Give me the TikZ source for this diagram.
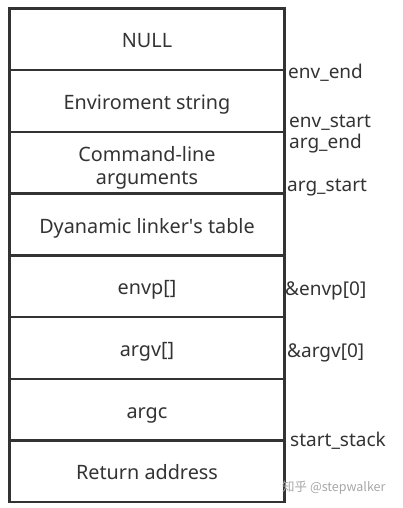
\documentclass[tikz,border=0pt]{standalone}
\usepackage{fontspec}
\setmainfont{Noto Sans}
\newfontfamily\cjk{Noto Sans CJK SC}
\usetikzlibrary{positioning}
\definecolor{inkgray}{HTML}{333333}

\begin{document}
\begin{tikzpicture}[x=1pt,y=-1pt,
  cell/.style={draw=inkgray,line width=2.4pt,outer sep=0pt,inner sep=0pt,
    minimum width=275pt,minimum height=61.7pt,text=inkgray,align=center,
    text height=18.7pt,text depth=1.4pt,
    font=\fontsize{19.8}{22.5}\selectfont},
  addr/.style={anchor=west,inner sep=0pt,text=inkgray,
    font=\fontsize{19}{22}\selectfont}]
\useasboundingbox (0,0) rectangle (403,508);

% stack cells, top to bottom
\node[cell] (null) at (147,39.35) {NULL};
\node[cell,below=0pt of null] (envstr) {Enviroment string};
\node[cell,below=0pt of envstr,text height=44.6pt] (cmdargs) {Command-line\\arguments};
\node[cell,below=0pt of cmdargs] (linker) {Dyanamic linker\textquotesingle s table};
\node[cell,below=0pt of linker] (envp) {envp[]};
\node[cell,below=0pt of envp] (argv) {argv[]};
\node[cell,below=0pt of argv] (argc) {argc};
\node[cell,below=0pt of argc] (retaddr) {Return address};

% addresses on the right
\node[addr] (envend) at (288,73) {env\_end};
\node[addr] (envstart) at (289,123) {env\_start};
\node[addr] (argend) at (289,144) {arg\_end};
\node[addr] (argstart) at (287,188) {arg\_start};
\node[addr] (envp0) at (285,291) {\&envp[0]};
\node[addr] (argv0) at (287,353) {\&argv[0]};
\node[addr] (startstack) at (290,441) {start\_stack};

\node[anchor=west,inner sep=0pt,text=black!35,font=\cjk\fontsize{12.5}{14}\selectfont] (mark) at (282,488) {知乎 @stepwalker};
\end{tikzpicture}
\end{document}
